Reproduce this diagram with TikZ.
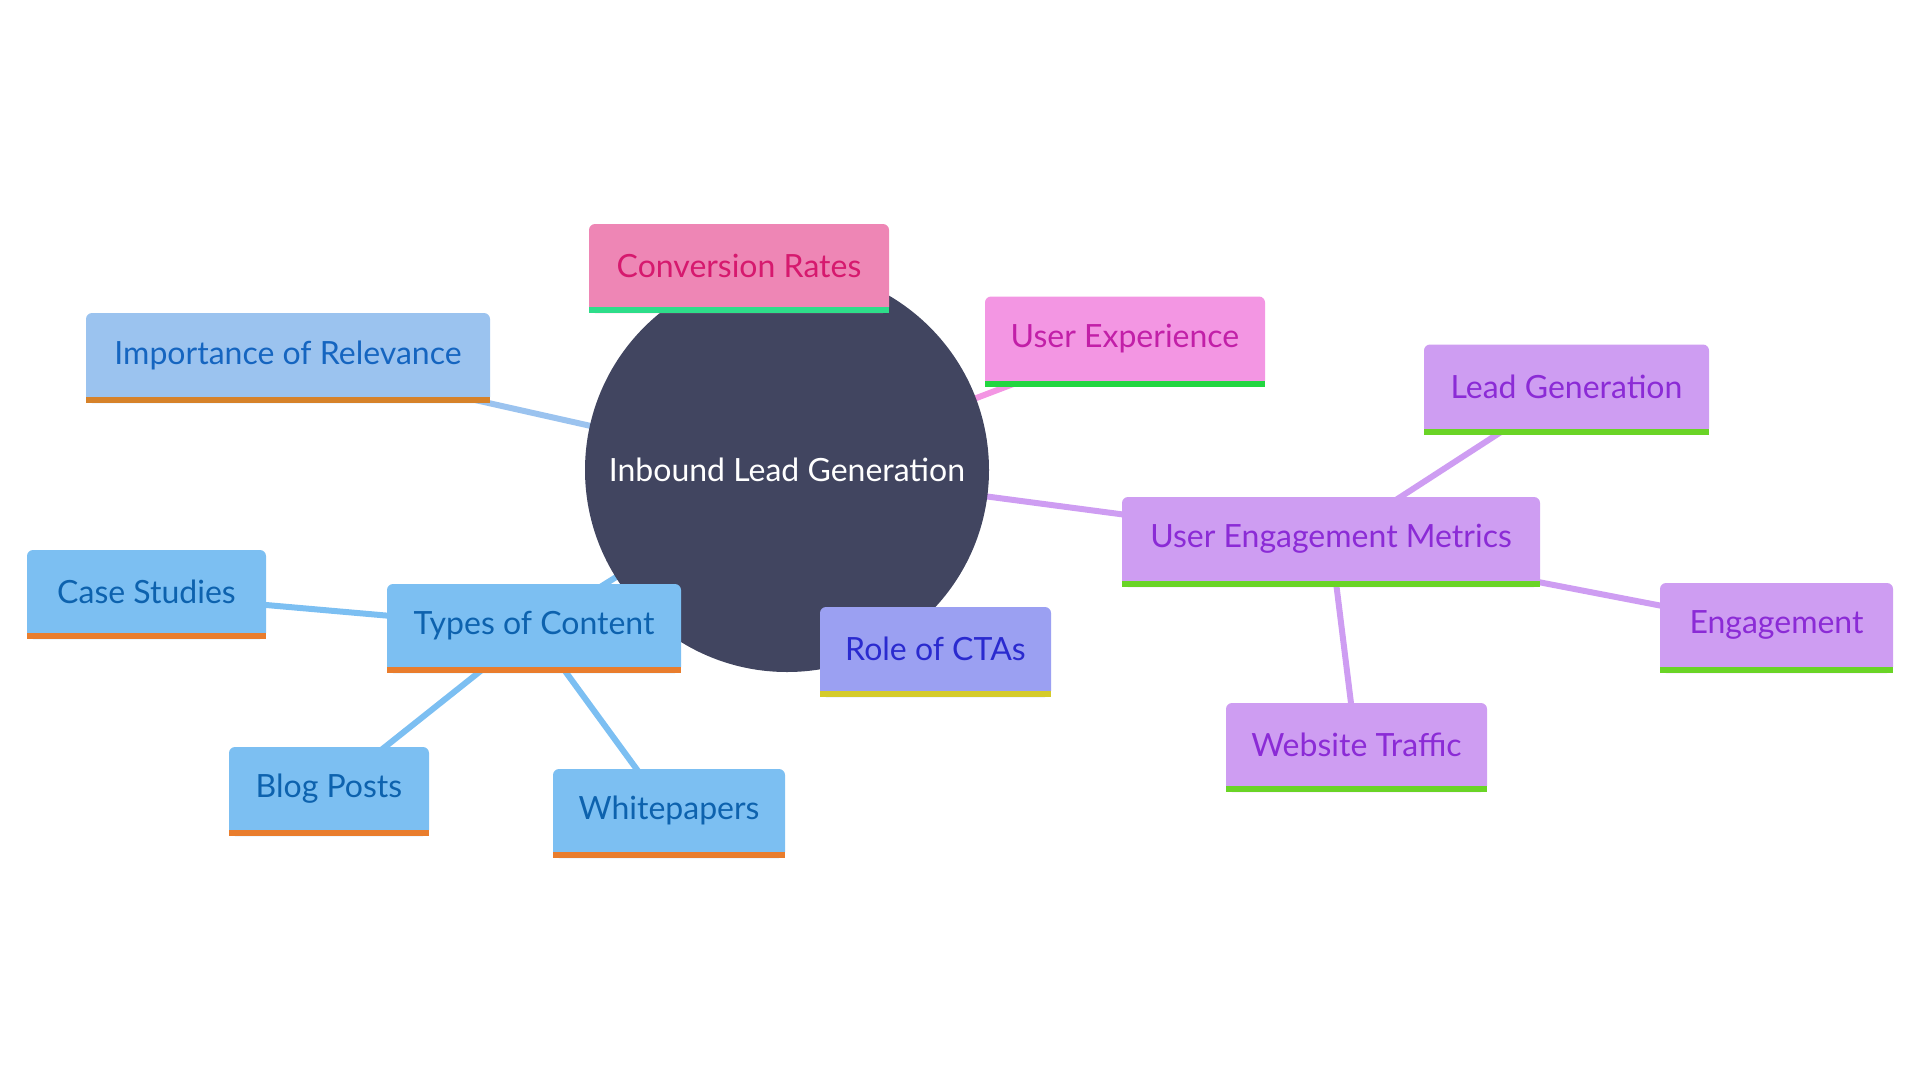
\documentclass[tikz,border=0pt]{standalone}
\usepackage{fontspec}
\setmainfont{Lato}
\usetikzlibrary{backgrounds}
\definecolor{core}{HTML}{414560}
\definecolor{crfill}{HTML}{EE86B5}\definecolor{crtext}{HTML}{D6196E}\definecolor{crbar}{HTML}{2EDD8A}
\definecolor{uxfill}{HTML}{F396E3}\definecolor{uxtext}{HTML}{C21FA8}\definecolor{uxbar}{HTML}{22D640}
\definecolor{irfill}{HTML}{9BC3EF}\definecolor{irtext}{HTML}{1565C0}\definecolor{irbar}{HTML}{D6822A}
\definecolor{tcfill}{HTML}{7CBFF2}\definecolor{tctext}{HTML}{0D62AE}\definecolor{tcbar}{HTML}{E97D2D}
\definecolor{ctfill}{HTML}{9BA0F2}\definecolor{cttext}{HTML}{2A2ACF}\definecolor{ctbar}{HTML}{D5CB2A}
\definecolor{pufill}{HTML}{CE9DF2}\definecolor{putext}{HTML}{8B2BD6}\definecolor{pubar}{HTML}{6AD426}
\tikzset{
  mbox/.style n args={4}{rectangle, rounded corners=6pt, fill=#1, text=#2,
    minimum width=#3, minimum height=#4, inner sep=0pt},
  lbl/.style={font=\fontsize{32}{38}\selectfont, anchor=center, inner sep=0pt},
  link/.style={line width=6pt, draw=#1},
}
\newcommand{\mybox}[8]{%
  \node[mbox={#5}{#7}{#3}{#4}] (#1) at #2 {};
  \fill[#6] (#1.south west) rectangle ([yshift=6pt]#1.south east);
  \node[lbl, text=#7] (#1-t) at ([yshift=3pt]#1.center) {#8};
}
\begin{document}
\begin{tikzpicture}[x=1pt,y=-1pt]
\useasboundingbox (0,0) rectangle (1920,1080);
\node[circle, fill=core, minimum size=404pt, inner sep=0pt, text=white, font=\fontsize{32}{38}\selectfont] (c) at (787,470) {Inbound Lead Generation};
\mybox{cr}{(739,268.5)}{300pt}{89pt}{crfill}{crbar}{crtext}{Conversion Rates}
\mybox{ux}{(1125,341.5)}{280pt}{90pt}{uxfill}{uxbar}{uxtext}{User Experience}
\mybox{ir}{(288,358)}{404pt}{90pt}{irfill}{irbar}{irtext}{Importance of Relevance}
\mybox{lg}{(1566.5,389.5)}{285pt}{90pt}{pufill}{pubar}{putext}{Lead Generation}
\mybox{uem}{(1331,542)}{418pt}{90pt}{pufill}{pubar}{putext}{User Engagement Metrics}
\mybox{en}{(1776.5,628)}{233pt}{90pt}{pufill}{pubar}{putext}{Engagement}
\mybox{cs}{(146.5,594.5)}{239pt}{89pt}{tcfill}{tcbar}{tctext}{Case Studies}
\mybox{tc}{(534,628.5)}{294pt}{89pt}{tcfill}{tcbar}{tctext}{Types of Content}
\mybox{cta}{(935.5,652)}{231pt}{90pt}{ctfill}{ctbar}{cttext}{Role of CTAs}
\mybox{wt}{(1356.5,747.5)}{261pt}{89pt}{pufill}{pubar}{putext}{Website Traffic}
\mybox{bp}{(329,791.5)}{200pt}{89pt}{tcfill}{tcbar}{tctext}{Blog Posts}
\mybox{wp}{(669,813.5)}{232pt}{89pt}{tcfill}{tcbar}{tctext}{Whitepapers}
\begin{scope}[on background layer]
\draw[link=irfill] (c.center) -- (ir.center);
\draw[link=tcfill] (c.center) -- (tc.center);
\draw[link=uxfill] (c.center) -- (ux.center);
\draw[link=pufill] (c.center) -- (uem.center);
\draw[link=crfill] (c.center) -- (cr.center);
\draw[link=ctfill] (c.center) -- (cta.center);
\draw[link=pufill] (uem.center) -- (lg.center);
\draw[link=pufill] (uem.center) -- (en.center);
\draw[link=pufill] (uem.center) -- (wt.center);
\draw[link=tcfill] (tc.center) -- (cs.center);
\draw[link=tcfill] (tc.center) -- (bp.center);
\draw[link=tcfill] (tc.center) -- (wp.center);
\end{scope}
\end{tikzpicture}
\end{document}
